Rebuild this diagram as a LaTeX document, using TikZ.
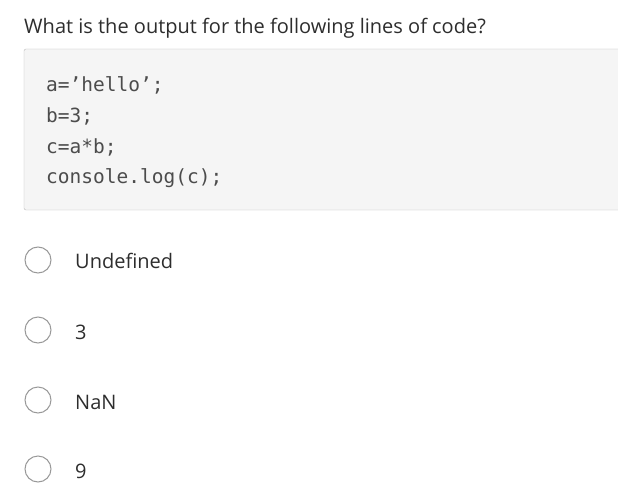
\documentclass[tikz,border=0pt]{standalone}
\usepackage{fontspec}
\setmainfont{Open Sans}
\newfontfamily\codefont{DejaVu Sans Mono}
\definecolor{txt}{HTML}{2D2D2D}
\definecolor{boxfill}{HTML}{F5F5F5}
\definecolor{boxline}{HTML}{BBBBBB}
\definecolor{radio}{HTML}{999999}
\begin{document}
\begin{tikzpicture}[x=1pt,y=-1pt,
  title/.style={anchor=base west,inner sep=0,text=txt,font=\fontsize{20}{24}\selectfont},
  code/.style={anchor=base west,inner sep=0,text=txt!85,font=\codefont\fontsize{19.5}{22}\selectfont},
  opt/.style={anchor=west,inner sep=0,text=txt,font=\fontsize{20}{24}\selectfont},
  rad/.style={circle,draw=radio,line width=1pt,minimum size=26pt,inner sep=0,fill=white}]
\useasboundingbox (0,0) rectangle (618,503);
\node[title] (t) at (24,34) {What is the output for the following lines of code?};
\draw[boxline,fill=boxfill,rounded corners=2pt] (24,49) rectangle (640,210);
\node[code] (c1) at (46,92) {a=’hello’;};
\node[code] (c2) at (46,122) {b=3;};
\node[code] (c3) at (46,153) {c=a*b;};
\node[code] (c4) at (46,183) {console.log(c);};
\node[rad] (r1) at (38,260) {};
\node[opt] (o1) at (75,261) {Undefined};
\node[rad] (r2) at (38,330) {};
\node[opt] (o2) at (75,332) {3};
\node[rad] (r3) at (38,400) {};
\node[opt] (o3) at (75,402) {NaN};
\node[rad] (r4) at (38,469) {};
\node[opt] (o4) at (75,471) {9};
\end{tikzpicture}
\end{document}
